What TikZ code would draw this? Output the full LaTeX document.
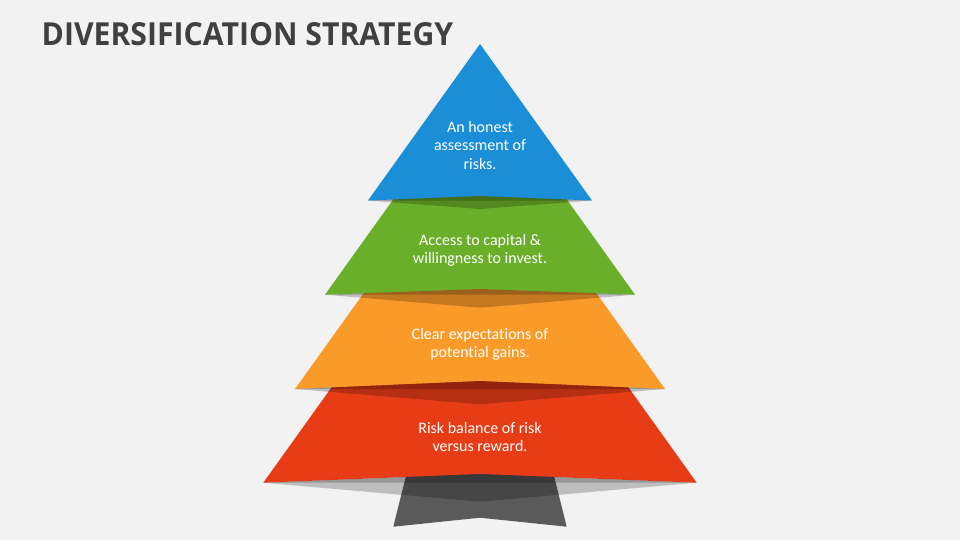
\documentclass[tikz,border=0pt]{standalone}
\usepackage{fontspec}
\setmainfont[Ligatures=NoCommon]{Carlito}
\newfontfamily\titlefont{Open Sans}
\usetikzlibrary{calc}
\definecolor{bgcol}{HTML}{F2F2F2}
\definecolor{titlecol}{HTML}{404040}
\definecolor{bluecol}{HTML}{1A8ED6}
\definecolor{greencol}{HTML}{6AAF29}
\definecolor{orangecol}{HTML}{F99A29}
\definecolor{redcol}{HTML}{E83C17}
\definecolor{pedcol}{HTML}{5A5A5A}
\begin{document}
\begin{tikzpicture}[x=1pt,y=-1pt,
  layertext/.style={text=white, align=center, inner sep=0pt, font=\fontsize{16}{18.3}\selectfont},
  shadowwide/.style={fill=black, fill opacity=0.21},
  shadowband/.style={fill=black, fill opacity=0.2}]
\fill[bgcol] (0,0) rectangle (960,540);
\useasboundingbox (0,0) rectangle (960,540);
% key points
\coordinate (apex) at (480,44);
\coordinate (bL) at (368,200.5); \coordinate (bC) at (480,196); \coordinate (bR) at (592,200.5); \coordinate (bD) at (480,209);
\coordinate (gL) at (325,294.7); \coordinate (gC) at (480,289); \coordinate (gR) at (635,294.7); \coordinate (gD) at (480,307.7);
\coordinate (oL) at (295,389); \coordinate (oC) at (480,381); \coordinate (oR) at (665,389); \coordinate (oD) at (480,404.3);
\coordinate (rL) at (263.3,482.7); \coordinate (rC) at (480,474); \coordinate (rR) at (696.7,482.7); \coordinate (rD) at (480,501.7);
% pedestal
\fill[pedcol] (406.5,474) -- (553.5,474) -- (566.7,526.7) -- (480,517.7) -- (393.3,526.7) -- cycle;
% layers
\fill[redcol] (336.1,381) -- (623.9,381) -- (rR) -- (rC) -- (rL) -- cycle;
\fill[orangecol] (366.6,289) -- (593.4,289) -- (oR) -- (oC) -- (oL) -- cycle;
\fill[greencol] (395.7,196) -- (564.3,196) -- (gR) -- (gC) -- (gL) -- cycle;
\fill[bluecol] (apex) -- (bR) -- (bC) -- (bL) -- cycle;
% shadows
\foreach \p in {b,g,o,r}{
  \fill[shadowwide] (\p L) -- (\p C) -- (\p R) -- (\p D) -- cycle;
  \fill[shadowband] (\p L) -- (\p C) -- (\p R) -- cycle;
}
% texts
\node[layertext] (t1) at (480,145.5) {An honest\\assessment of\\risks.};
\node[layertext] (t2) at (480,250) {Access to capital \&\\willingness to invest.};
\node[layertext] (t3) at (480,344.4) {Clear expectations of\\potential gains.};
\node[layertext] (t4) at (480,436.8) {Risk balance of risk\\versus reward.};
\node[anchor=north west, inner sep=0pt, text=titlecol] (title) at (41.5,22.7)
  {\resizebox{411.5pt}{23pt}{\titlefont\bfseries DIVERSIFICATION STRATEGY}};
\end{tikzpicture}
\end{document}
